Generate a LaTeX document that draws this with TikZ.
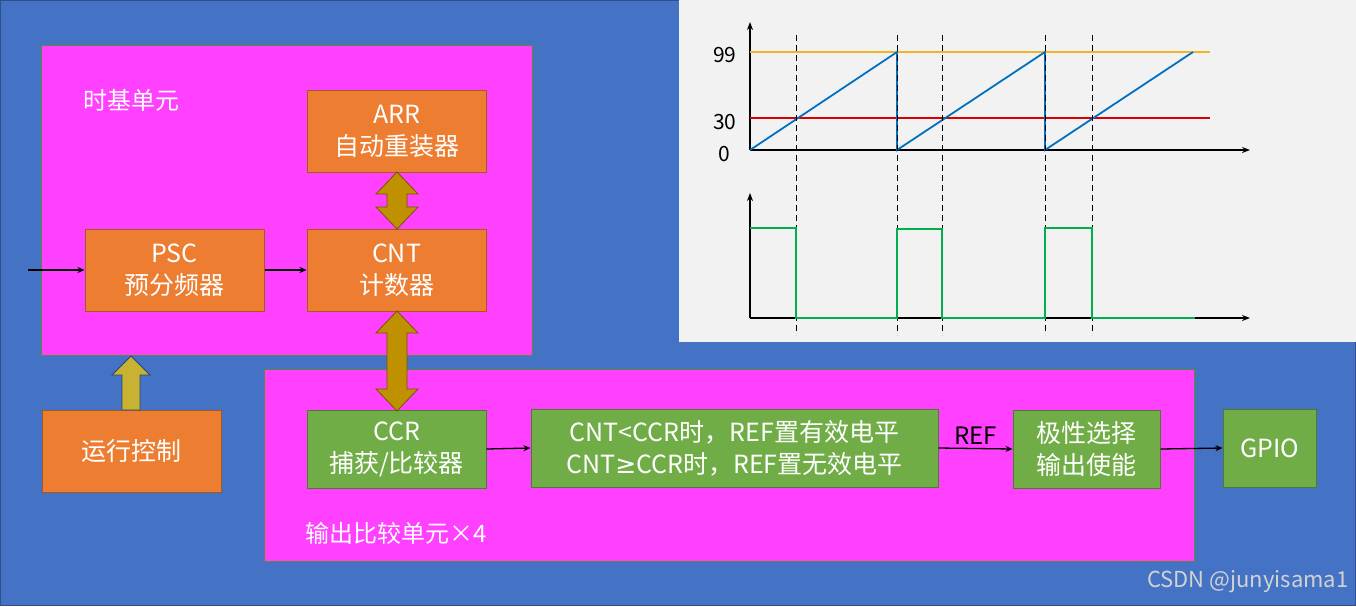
\documentclass[tikz,border=0pt]{standalone}
\usepackage{fontspec}
\setmainfont{Noto Sans CJK SC}
\newfontfamily\symf{DejaVu Sans}
\usetikzlibrary{arrows.meta}
\definecolor{bg}{HTML}{4472C4}
\definecolor{mag}{HTML}{FF40FF}
\definecolor{org}{HTML}{ED7D31}
\definecolor{grn}{HTML}{70AD47}
\definecolor{gold}{HTML}{BF9000}
\tikzset{
 obox/.style={draw=org!70!black,fill=org,text=white,align=center,font=\fontsize{25}{32}\selectfont,line width=1pt},
 gbox/.style={draw=grn!70!black,fill=grn,text=white,align=center,font=\fontsize{25}{32}\selectfont,line width=1pt},
 mbox/.style={draw=grn!80!black,fill=mag,line width=1pt},
 arr/.style={-{Stealth[length=7pt,width=6pt]},line width=1.3pt},
 dbl/.style={draw=gold!60!black,fill=gold,line width=0.8pt},
 ax/.style={-{Stealth[length=8pt,width=6pt]},line width=1.3pt},
 dsh/.style={dashed,line width=1pt,dash pattern=on 6pt off 4pt},
 lbl/.style={font=\fontsize{24}{28}\selectfont}
}
\begin{document}
\begin{tikzpicture}[x=1pt,y=-1pt]
\useasboundingbox (0,0) rectangle (1356,606);
\fill[bg] (0,0) rectangle (1356,606);
\draw[bg!70!black,line width=1pt] (0.5,0.5) rectangle (1355.5,605.5);
\fill[gray!10] (679,0) rectangle (1356,342);
% time base
\draw[mbox] (41,45) rectangle (532,355);
\node[anchor=west,text=white,lbl] (tb) at (80,100) {时基单元};
\node[obox,minimum width=179pt,minimum height=82pt] (arr) at (396.5,131) {ARR\\自动重装器};
\node[obox,minimum width=179pt,minimum height=82pt] (psc) at (174.5,270) {PSC\\预分频器};
\node[obox,minimum width=179pt,minimum height=82pt] (cnt) at (396.5,270) {CNT\\计数器};
\coordinate (in) at (28,270);
\draw[arr] (in) -- (psc.west);
\draw[arr] (psc.east) -- (cnt.west);
\draw[dbl] (397,172) -- (418,194) -- (407,194) -- (407,207) -- (418,207) -- (397,229) -- (376,207) -- (387,207) -- (387,194) -- (376,194) -- cycle;
% run control
\node[obox,minimum width=179pt,minimum height=82pt] (run) at (131.5,451) {运行控制};
\draw[fill={rgb,255:red,200;green,178;blue,50},draw=bg!60!black,line width=0.8pt] (131,356) -- (150,375) -- (140,375) -- (140,410) -- (122,410) -- (122,375) -- (112,375) -- cycle;
% output compare
\draw[mbox] (264,369) rectangle (1194,561);
\node[anchor=west,text=white,lbl] (oc) at (302,533) {输出比较单元×4};
\node[gbox,minimum width=179pt,minimum height=78pt] (ccr) at (396.5,449) {CCR\\捕获/比较器};
\node[gbox,minimum width=407pt,minimum height=78pt] (cmp) at (734.5,448) {CNT<CCR时，REF置有效电平\\CNT{\symf ≥}CCR时，REF置无效电平};
\node[gbox,minimum width=147pt,minimum height=78pt] (pol) at (1086.5,449) {极性选择\\输出使能};
\node[gbox,minimum width=93pt,minimum height=78pt] (gpio) at (1269.5,448) {GPIO};
\draw[arr] (ccr.east) -- (cmp.west);
\draw[arr] (cmp.east) -- node[above,text=black,lbl,yshift=0pt] {REF} (pol.west);
\draw[arr] (pol.east) -- (gpio.west);
\draw[dbl] (397,311) -- (418,333) -- (407,333) -- (407,389) -- (418,389) -- (397,411) -- (376,389) -- (387,389) -- (387,333) -- (376,333) -- cycle;
\node[text=gray!35,font=\fontsize{22}{24}\selectfont,anchor=east] (wm) at (1352,582) {CSDN @junyisama1};
% chart
\draw[ax] (750,150) -- (750,22);
\draw[ax] (750,150) -- (1250,150);
\draw[ax] (750,318) -- (750,193);
\draw[ax] (750,318) -- (1250,318);
\node[lbl,anchor=east,font=\fontsize{21}{24}\selectfont] at (740,55) {99};
\node[lbl,anchor=east,font=\fontsize{21}{24}\selectfont] at (740,122) {30};
\node[lbl,anchor=east,font=\fontsize{21}{24}\selectfont] at (734,154) {0};
\draw[line width=1.5pt,color={rgb,255:red,240;green,180;blue,40}] (750,52) -- (1210,52);
\draw[line width=1.5pt,red!85!black] (750,118) -- (1210,118);
\draw[line width=1.8pt,color={rgb,255:red,0;green,112;blue,192}] (750,150) -- (897,52) -- (897,150) -- (1045,52) -- (1045,150) -- (1193,52);
\foreach \x in {796,897,942,1045,1092} \draw[dsh] (\x,35) -- (\x,335);
\draw[line width=2pt,color={rgb,255:red,0;green,176;blue,80}] (750,228) -- (796,228) -- (796,318) -- (897,318) -- (897,229) -- (942,229) -- (942,318) -- (1045,318) -- (1045,228) -- (1092,228) -- (1092,318) -- (1195,318);
\end{tikzpicture}
\end{document}
